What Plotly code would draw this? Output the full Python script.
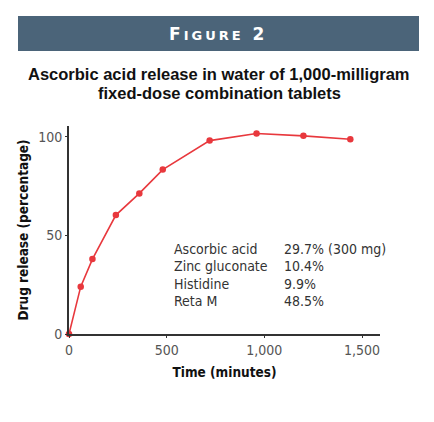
import plotly.graph_objects as go

# release profile
time_min = [0, 60, 120, 240, 360, 480, 720, 960, 1200, 1440]
release_pct = [0, 24, 38, 60.3, 71.3, 83.4, 98.1, 101.7, 100.5, 98.8]

x_ticks = [0, 500, 1000, 1500]
x_tick_labels = ["0", "500", "1,000", "1,500"]
y_ticks = [0, 50, 100]

components = ["Ascorbic acid", "Zinc gluconate", "Histidine", "Reta M"]
shares = ["29.7% (300 mg)", "10.4%", "9.9%", "48.5%"]

# page body adds an 8px margin, so the figure is drawn 8px in from the corner
OFF = 8
W, H = 434 - OFF, 422 - OFF
L, R, T, B = 61, 54, 118, 88
PW, PH = W - L - R, H - T - B


def px(x, y):
    """screenshot pixel -> paper coordinates"""
    return (x - OFF - L) / PW, (H - B - (y - OFF)) / PH


NARROW = "DejaVu Sans Condensed"


def nfont(size, color):
    return dict(family=NARROW, size=size, color=color)


fig = go.Figure()
fig.add_trace(go.Scatter(
    x=time_min, y=release_pct,
    mode="lines+markers",
    line=dict(color="#e8383d", width=1.6),
    marker=dict(color="#e8383d", size=6.5),
    cliponaxis=False,
    showlegend=False,
))

# header band
x0, y0 = px(18, 16)
x1, y1 = px(419, 51)
fig.add_shape(type="rect", xref="paper", yref="paper", x0=x0, x1=x1, y0=y1, y1=y0,
              fillcolor="#4b6479", line_width=0, layer="below")

hx, hy = px(218, 22)
fig.add_annotation(
    xref="paper", yref="paper", x=hx, y=hy, showarrow=False,
    text="<b><span style='letter-spacing:3px'>F<span style='font-size:13px'>IGURE</span> 2</span></b>",
    font=dict(family="DejaVu Sans", size=17, color="white"),
)
for line, ypix in (("Ascorbic acid release in water of 1,000-milligram", 63),
                   ("fixed-dose combination tablets", 82)):
    tx, ty = px(219, ypix)
    fig.add_annotation(
        xref="paper", yref="paper", x=tx, y=ty, showarrow=False,
        text="<b>%s</b>" % line,
        font=dict(family="Liberation Sans, Arial, sans-serif", size=16.5, color="#111111"),
    )

# composition table, one row at a time for tight spacing
row_y0, row_dy = 249, 17.4
for i, (name, share) in enumerate(zip(components, shares)):
    _, ry = px(0, row_y0 + i * row_dy)
    for xpix, txt in ((172, name), (282, share)):
        rx, _ = px(xpix, 0)
        fig.add_annotation(
            xref="paper", yref="paper", x=rx, y=ry, xanchor="left", yanchor="middle",
            showarrow=False, text=txt, font=nfont(14, "#333333"),
        )

fig.update_xaxes(
    range=[0, 1592], tickvals=x_ticks, ticktext=x_tick_labels,
    showline=True, linecolor="#333333", linewidth=2, showgrid=False, zeroline=False,
    ticks="outside", ticklen=2, tickcolor="#333333",
    tickfont=nfont(14, "#555555"), automargin=False,
    title=dict(text="<b>Time (minutes)</b>", standoff=11, font=nfont(13.5, "#111111")),
)
fig.update_yaxes(
    range=[0, 105.5], tickvals=y_ticks,
    showline=True, linecolor="#333333", linewidth=2, showgrid=False, zeroline=False,
    ticks="outside", ticklen=2, tickcolor="#333333",
    tickfont=nfont(14, "#555555"), automargin=False,
    title=dict(text="<b>Drug release (percentage)</b>", standoff=6, font=nfont(13.5, "#111111")),
)

fig.update_layout(
    width=W, height=H,
    margin=dict(l=L, r=R, t=T, b=B),
    plot_bgcolor="white", paper_bgcolor="white",
)

fig.write_html("out.html")
